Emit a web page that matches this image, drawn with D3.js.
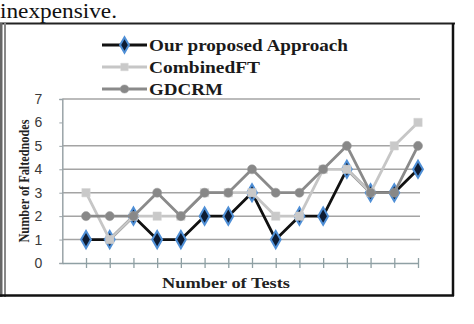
<!DOCTYPE html>
<html><head><meta charset="utf-8">
<script src="https://cdn.jsdelivr.net/npm/d3@7"></script>
<style>html,body{margin:0;padding:0;background:#fff;}svg{display:block;}</style>
</head><body>
<script>
const tests = d3.range(1, 16);
const ourApproach = [1,1,2,1,1,2,2,3,1,2,2,4,3,3,4];
const combinedFT  = [3,1,2,2,2,3,3,3,2,2,4,4,3,5,6];
const gdcrm       = [2,2,2,3,2,3,3,4,3,3,4,5,3,3,5];
const yTicks = [0,1,2,3,4,5,6,7];
const gridVals = [1,2,3,4,5,7];
const seriesNames = ["Our proposed Approach", "CombinedFT", "GDCRM"];

const W = 474, H = 324;
const svg = d3.select("body").append("svg").attr("width", W).attr("height", H);
svg.append("rect").attr("width", W).attr("height", H).attr("fill", "#fff");

// caption text above
svg.append("text").attr("x", 0).attr("y", 18)
  .attr("font-family", "Liberation Serif").attr("font-size", 21).attr("fill", "#111")
  .attr("textLength", 117).attr("lengthAdjust", "spacingAndGlyphs")
  .text("inexpensive.");

// frame
svg.append("line").attr("x1", 0).attr("x2", 455).attr("y1", 23.5).attr("y2", 23.5).attr("stroke", "#222").attr("stroke-width", 2);
svg.append("rect").attr("x", 0).attr("y", 23).attr("width", 2.5).attr("height", 274).attr("fill", "#666");
svg.append("rect").attr("x", 4).attr("y", 23).attr("width", 2).attr("height", 274).attr("fill", "#888");
svg.append("line").attr("x1", 453).attr("x2", 453).attr("y1", 23).attr("y2", 296).attr("stroke", "#111").attr("stroke-width", 2.5);
svg.append("line").attr("x1", 0).attr("x2", 454).attr("y1", 295.5).attr("y2", 295.5).attr("stroke", "#111").attr("stroke-width", 2.5);

const x = d3.scaleLinear().domain([0, 15]).range([62.3, 418]);
const y = d3.scaleLinear().domain([0, 7]).range([263, 99]);

// gridlines
svg.append("g").selectAll("line").data(gridVals).join("line")
  .attr("x1", x(0)).attr("x2", 420).attr("y1", d => y(d)).attr("y2", d => y(d))
  .attr("stroke", "#a4a4a4").attr("stroke-width", 1.5);

// y axis
const yAxis = svg.append("g").attr("transform", `translate(${x(0)},0)`)
  .call(d3.axisLeft(y).tickValues(yTicks).tickFormat(d3.format("d")).tickSize(3).tickPadding(20));
yAxis.select(".domain").attr("stroke", "#9aa4a8").attr("stroke-width", 1.5);
yAxis.selectAll(".tick line").attr("stroke", "#9aa4a8");
yAxis.selectAll(".tick text").attr("font-family", "Liberation Sans").attr("font-size", 14)
  .attr("fill", "#3a3a3a").attr("text-anchor", "middle").attr("dx", "-1");

// x axis
const xAxis = svg.append("g").attr("transform", `translate(0,${y(0)})`)
  .call(d3.axisBottom(x).tickValues(tests).tickSizeInner(5).tickSizeOuter(0).tickFormat(""));
xAxis.select(".domain").attr("stroke", "#8fa0a4").attr("stroke-width", 1.5);
xAxis.selectAll(".tick line").attr("y1", -5).attr("stroke", "#8fa0a4").attr("stroke-width", 1.3);

// axis titles
svg.append("text").attr("x", 226).attr("y", 288).attr("text-anchor", "middle")
  .attr("font-family", "Liberation Serif").attr("font-weight", "bold").attr("font-size", 15)
  .attr("fill", "#222").attr("textLength", 128).attr("lengthAdjust", "spacingAndGlyphs")
  .text("Number of Tests");
svg.append("text").attr("transform", "translate(29,181) rotate(-90)").attr("text-anchor", "middle")
  .attr("font-family", "Liberation Serif").attr("font-weight", "bold").attr("font-size", 15)
  .attr("fill", "#222").attr("textLength", 123).attr("lengthAdjust", "spacingAndGlyphs")
  .text("Number of Faltednodes");

const line = d3.line().x((d, i) => x(tests[i])).y(d => y(d));

const styles = [
  {data: ourApproach, color: "#111", sym: d3.symbolDiamond, size: 85, fill: "#0e1c33", stroke: "#4f8fd6", sw: 2},
  {data: combinedFT, color: "#c6c6c6", sym: d3.symbolSquare, size: 70, fill: "#c9c9c9", stroke: "#d4d4d4", sw: 0.5},
  {data: gdcrm, color: "#8a8a8a", sym: d3.symbolCircle, size: 65, fill: "#888", stroke: "#999", sw: 0.5}
];

styles.forEach(s => {
  svg.append("path").datum(s.data).attr("d", line).attr("fill", "none")
    .attr("stroke", s.color).attr("stroke-width", 2.8).attr("stroke-linejoin", "round");
  svg.append("g").selectAll("path").data(s.data).join("path")
    .attr("d", d3.symbol().type(s.sym).size(s.size))
    .attr("transform", (d, i) => `translate(${x(tests[i])},${y(d)})`)
    .attr("fill", s.fill).attr("stroke", s.stroke).attr("stroke-width", s.sw);
});

// legend
const legendY = [45, 67, 89];
const legendW = [199, 111, 74];
styles.forEach((s, i) => {
  const g = svg.append("g");
  g.append("line").attr("x1", 102).attr("x2", 147).attr("y1", legendY[i]).attr("y2", legendY[i])
    .attr("stroke", s.color).attr("stroke-width", 2.8);
  g.append("path").attr("d", d3.symbol().type(s.sym).size(s.size * 0.8))
    .attr("transform", `translate(124.5,${legendY[i]})`)
    .attr("fill", s.fill).attr("stroke", s.stroke).attr("stroke-width", s.sw);
  g.append("text").attr("x", 149).attr("y", legendY[i] + 5.5)
    .attr("font-family", "Liberation Serif").attr("font-weight", "bold").attr("font-size", 17)
    .attr("fill", "#1a1a1a").attr("textLength", legendW[i]).attr("lengthAdjust", "spacingAndGlyphs")
    .text(seriesNames[i]);
});
</script>
</body></html>
